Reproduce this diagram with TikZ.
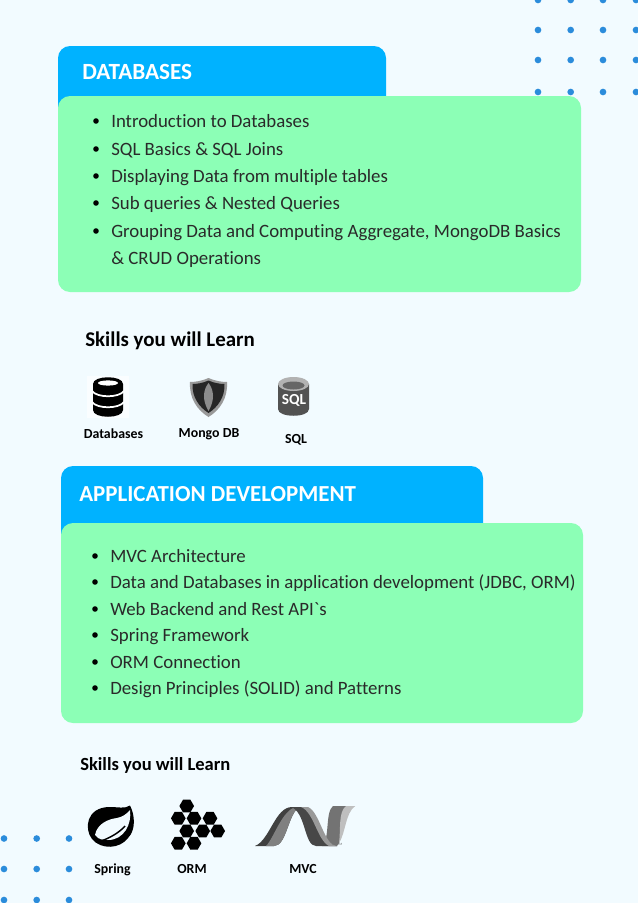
\documentclass[tikz,border=0pt]{standalone}
\usepackage{fontspec}
\setmainfont[Ligatures=NoCommon]{Carlito}
\usetikzlibrary{positioning,shapes.geometric}
\definecolor{pagebg}{HTML}{F2FBFF}
\definecolor{tabblue}{HTML}{00B2FF}
\definecolor{boxgreen}{HTML}{8CFFB6}
\definecolor{dotblue}{HTML}{2B8CDB}
\definecolor{bodyink}{HTML}{2A2A2A}
\newcommand{\pw}{638}
\newcommand{\ph}{903}
\tikzset{
  tabbox/.style={fill=tabblue, rounded corners=9pt},
  greenbox/.style={fill=boxgreen, rounded corners=9pt},
  tabtext/.style={anchor=base west, text=white, inner sep=0pt},
  listline/.style={anchor=base west, text=bodyink, inner sep=0pt, font=\fontsize{14.12}{16}\selectfont},
  listdot/.style={circle, fill=black, inner sep=0pt, minimum size=4.2pt},
  skillshead/.style={anchor=base west, text=black, inner sep=0pt},
  iconlabel/.style={anchor=base, text=black, inner sep=0pt, font=\fontsize{10.4}{12}\selectfont\bfseries},
  hexcell/.style={regular polygon, regular polygon sides=6, fill=black, inner sep=0pt, minimum size=11pt},
  griddot/.style={circle, fill=dotblue, inner sep=0pt, minimum size=5pt}
}
\begin{document}
\begin{tikzpicture}[x=0.75pt, y=-0.75pt]
    \useasboundingbox (0, 0) rectangle (\pw, \ph);
    \fill[pagebg] (0, 0) rectangle (\pw, \ph);

    % dot grids
    \foreach \gx in {538, 570.7, 603, 636}
        \foreach \gy in {0, 30, 60, 92}
            \node[griddot] (dot-\gx-\gy) at (\gx, \gy) {};
    \foreach \gx in {4, 36.7, 69}
        \foreach \gy in {838.5, 869, 900}
            \node[griddot] (dot-\gx-\gy) at (\gx, \gy) {};

    % databases
    \fill[tabbox] (58, 46) rectangle (386, 125);
    \fill[greenbox] (58, 96) rectangle (581, 292);
    \node[tabtext, font=\fontsize{17.4}{20}\selectfont\bfseries] (dbhead) at (82, 79) {DATABASES};
    \foreach \ly/\lt in {121/Introduction to Databases,
                         149/SQL Basics \& SQL Joins,
                         176/Displaying Data from multiple tables,
                         203/Sub queries \& Nested Queries,
                         231/{Grouping Data and Computing Aggregate, MongoDB Basics}} {
        \node[listdot] (dbdot-\ly) at (96, \ly) {};
        \node[listline] (dbline-\ly) at (111, \ly+6.5) {\lt};
    }
    \node[listline] (dbline-258) at (111, 264.5) {\& CRUD Operations};

    \node[skillshead, font=\fontsize{15.7}{18}\selectfont\bfseries] (dbskills) at (85, 346) {Skills you will Learn};

    % database icon
    \fill[white!60!pagebg] (87, 376) rectangle (129, 418);
    \fill[black] (93, 384) .. controls (93, 375) and (123, 375) .. (123, 384)
        -- (123, 410) .. controls (123, 419) and (93, 419) .. (93, 410) -- cycle;
    \fill[white] (108, 383) ellipse [x radius=10, y radius=2.6];
    \draw[white, line width=1.3pt] (92, 391) .. controls (97, 398) and (119, 398) .. (124, 391);
    \draw[white, line width=1.3pt] (92, 402) .. controls (97, 409) and (119, 409) .. (124, 402);

    % mongo icon
    \fill[black!40] (208.5, 378) .. controls (215, 381) and (222, 382) .. (227, 382)
        .. controls (228, 398) and (220, 410) .. (208.5, 417)
        .. controls (197, 410) and (189, 398) .. (190, 382)
        .. controls (195, 382) and (202, 381) .. (208.5, 378) -- cycle;
    \fill[black!85] (208.5, 380.5) .. controls (214, 383) and (220, 384) .. (224.5, 384)
        .. controls (225, 397) and (218, 407) .. (208.5, 413)
        .. controls (199, 407) and (192, 397) .. (192.5, 384)
        .. controls (197, 384) and (203, 383) .. (208.5, 380.5) -- cycle;
    \fill[black!45] (208.5, 383) .. controls (214, 390) and (215, 400) .. (208.5, 411)
        .. controls (202, 400) and (203, 390) .. (208.5, 383) -- cycle;

    % sql icon
    \fill[black!68] (278, 384) -- (278, 409)
        .. controls (278, 418) and (309, 418) .. (309, 409) -- (309, 384) -- cycle;
    \fill[black!30] (293.5, 384) ellipse [x radius=15.5, y radius=7];
    \fill[black!60] (293.5, 385.5) ellipse [x radius=11, y radius=4];
    \node[text=white, inner sep=0pt, font=\fontsize{11.5}{12}\selectfont\bfseries] (sqlmark) at (294, 400.5) {SQL};

    \node[iconlabel] (dblabel) at (113.5, 438) {Databases};
    \node[iconlabel] (mongolabel) at (209, 437.5) {Mongo DB};
    \node[iconlabel] (sqllabel) at (296, 443) {SQL};

    % application development
    \fill[tabbox] (61, 466) rectangle (483, 550);
    \fill[greenbox] (61, 523) rectangle (583, 723);
    \node[tabtext, font=\fontsize{17.2}{20}\selectfont\bfseries] (apphead) at (79, 501) {APPLICATION DEVELOPMENT};
    \foreach \ly/\lt in {556/MVC Architecture,
                         582/{Data and Databases in application development (JDBC, ORM)},
                         609/Web Backend and Rest API\textasciigrave s,
                         635/Spring Framework,
                         662/ORM Connection,
                         688/Design Principles (SOLID) and Patterns} {
        \node[listdot] (appdot-\ly) at (95, \ly) {};
        \node[listline] (appline-\ly) at (110, \ly+6.5) {\lt};
    }

    \node[skillshead, font=\fontsize{13.9}{16}\selectfont\bfseries] (appskills) at (80, 770) {Skills you will Learn};

    % spring icon
    \fill[black] (110, 807) .. controls (118, 807) and (125, 809) .. (130, 805.5)
        .. controls (135, 815) and (136, 830) .. (128, 838)
        .. controls (120, 849) and (101, 850) .. (92, 839)
        .. controls (84, 829) and (86, 807) .. (110, 807) -- cycle;
    \fill[pagebg] (95, 835) .. controls (97, 824) and (108, 819) .. (117, 818)
        .. controls (122, 817) and (127, 814) .. (130, 810)
        .. controls (132, 824) and (124, 840) .. (108, 840)
        .. controls (103, 840) and (99, 840) .. (95, 835) -- cycle;
    \draw[black, line width=1.1pt] (101, 841) .. controls (110, 838) and (120, 832) .. (125, 826);

    % orm icon
    \foreach \hx/\hy [count=\hi] in {186.7/806, 178.3/818.3, 194/818.3, 210/818.3,
                                     186.7/831, 202.7/831, 217.7/831, 178.3/843.3, 194/843.3}
        \node[hexcell] (hex\hi) at (\hx, \hy) {};

    % mvc icon
    \fill[black!55] (322, 846) -- (337, 846) .. controls (344, 840) and (342, 807) .. (355, 806)
        -- (333, 806) .. controls (325, 812) and (330, 840) .. (322, 846) -- cycle;
    \fill[black!25] (346, 806) -- (355, 806) .. controls (345, 814) and (346, 832) .. (339, 843)
        .. controls (341, 830) and (338, 812) .. (346, 806) -- cycle;
    \fill[black!75] (255, 846) .. controls (270, 840) and (275, 807) .. (292, 807)
        -- (300, 807) .. controls (288, 812) and (287, 846) .. (274, 846) -- cycle;
    \fill[black!50] (266, 846) .. controls (274, 838) and (282, 810) .. (296, 807)
        -- (300, 807) .. controls (288, 812) and (287, 846) .. (274, 846) -- cycle;
    \fill[black!72] (291, 807) -- (306, 807) .. controls (318, 810) and (322, 846) .. (337, 846)
        -- (316, 846) .. controls (304, 846) and (306, 812) .. (291, 807) -- cycle;
    \fill[black!40] (301, 807) -- (308, 807) .. controls (320, 812) and (324, 846) .. (337, 846)
        -- (329, 846) .. controls (317, 840) and (314, 812) .. (301, 807) -- cycle;
    \node[text=black!60, inner sep=0pt, font=\fontsize{2.5}{3}\selectfont] (mvctm) at (340, 844) {TM};

    \node[iconlabel] (springlabel) at (112.5, 873) {Spring};
    \node[iconlabel] (ormlabel) at (192, 873) {ORM};
    \node[iconlabel] (mvclabel) at (303, 873) {MVC};
\end{tikzpicture}
\end{document}
